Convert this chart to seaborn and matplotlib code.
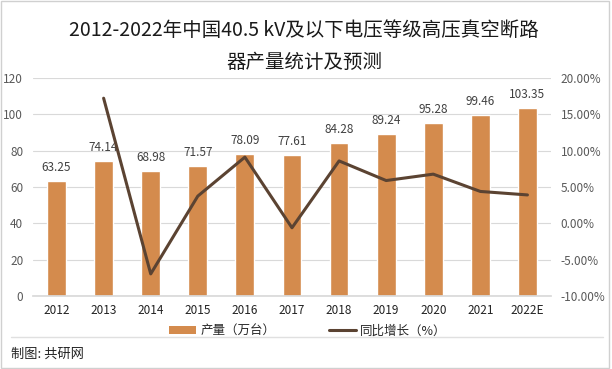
import matplotlib
matplotlib.use("Agg")
import matplotlib.pyplot as plt
import seaborn as sns
import numpy as np
import pandas as pd
from matplotlib.lines import Line2D
from matplotlib.patches import Patch, Rectangle

years = ["2012", "2013", "2014", "2015", "2016", "2017", "2018", "2019", "2020", "2021", "2022E"]
output = [63.25, 74.14, 68.98, 71.57, 78.09, 77.61, 84.28, 89.24, 95.28, 99.46, 103.35]
growth_years = years[1:]
growth = [17.22, -6.96, 3.75, 9.11, -0.61, 8.59, 5.89, 6.77, 4.39, 3.91]

title = "2012-2022年中国40.5 kV及以下电压等级高压真空断路\n器产量统计及预测"
bar_label = "产量（万台）"
line_label = "同比增长（%）"
source = "制图: 共研网"

sns.set_theme(style="white")
plt.rcParams['font.family'] = ['Noto Sans CJK SC', 'DejaVu Sans']

bar_color = "#D48B4D"
line_color = "#5B4332"
tick_color = "#595959"
grid_color = "#D9D9D9"

fig = plt.figure(figsize=(6.12, 3.69), dpi=100)
ax = fig.add_axes([0.0539, 0.1978, 0.8464, 0.5908])

df = pd.DataFrame({"year": years, "output": output})
sns.barplot(data=df, x="year", y="output", order=years, color=bar_color,
            saturation=1, width=0.40, ax=ax)
ax.set_ylim(0, 120)
ax.set_yticks(np.arange(0, 121, 20))
ax.yaxis.grid(True, color=grid_color, linewidth=0.8)
ax.set_axisbelow(True)
for s in ax.spines.values():
    s.set_visible(False)
ax.spines['bottom'].set_visible(True)
ax.spines['bottom'].set_color(grid_color)
ax.set_xlabel("")
ax.set_ylabel("")
ax.tick_params(axis='both', length=0, labelsize=8.5, colors=tick_color, pad=7)
ax.tick_params(axis='x', labelcolor="#222222", pad=6)
for c in ax.containers:
    ax.bar_label(c, labels=[f"{v:.2f}" for v in output], padding=5,
                 fontsize=8.5, color="#404040")

ax2 = ax.twinx()
gdf = pd.DataFrame({"year": growth_years, "growth": growth})
sns.pointplot(data=gdf, x="year", y="growth", order=years, color=line_color,
              markers="", linewidth=2.2, ax=ax2)
ax2.set_ylim(-10, 20)
ax2.set_yticks(np.arange(-10, 21, 5))
ax2.set_yticklabels([f"{v:.2f}%" for v in np.arange(-10, 21, 5)])
ax2.set_xlim(ax.get_xlim())
ax2.set_ylabel("")
ax2.set_xlabel("")
for s in ax2.spines.values():
    s.set_visible(False)
ax2.tick_params(axis='y', length=0, labelsize=8.5, colors=tick_color, pad=7)

fig.text(0.497, 0.873, title, ha="center", va="center", fontsize=14,
         color="#1a1a1a", linespacing=1.7)

handles = [Patch(facecolor=bar_color, edgecolor='none'),
           Line2D([0], [0], color=line_color, linewidth=2.2)]
fig.legend(handles, [bar_label, line_label], loc="center", ncol=2,
           bbox_to_anchor=(0.503, 0.103), frameon=False, fontsize=9,
           columnspacing=4.3, handlelength=2.2, handletextpad=0.3,
           handleheight=0.6)

fig.add_artist(Line2D([0.018, 0.985], [0.087, 0.087], color="#E0E0E0",
                      linewidth=1, transform=fig.transFigure))
fig.text(0.018, 0.04, source, ha="left", va="center", fontsize=9.5, color="#222222")
fig.add_artist(Rectangle((0.002, 0.003), 0.993, 0.993, transform=fig.transFigure,
                         fill=False, edgecolor="#D0D0D0", linewidth=1))

fig.savefig("out.png", dpi=100)
